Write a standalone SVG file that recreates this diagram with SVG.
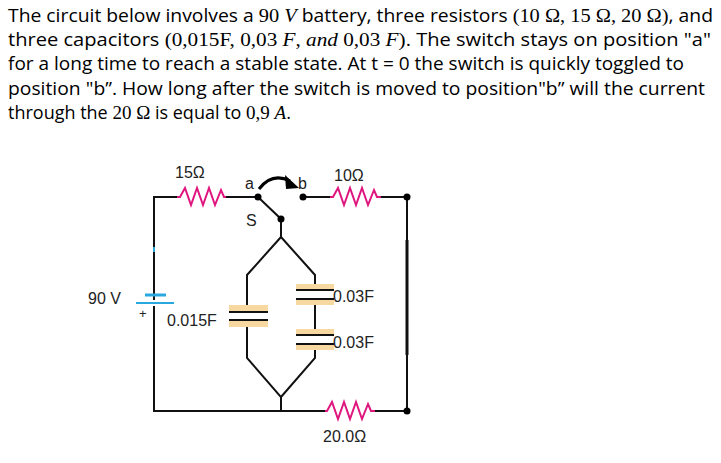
<svg xmlns="http://www.w3.org/2000/svg" width="721" height="463" viewBox="0 0 721 463">
<style>
.t{font-family:"Open Sans","Liberation Sans",sans-serif;font-size:18px;fill:#000}
.m{font-family:"Liberation Serif",serif;font-size:19px}
.i{font-style:italic}
.l{font-family:"Liberation Sans",Arial,sans-serif;font-size:16px;fill:#222}
.w{stroke:#111;stroke-width:2;fill:none}
.r{stroke:#e0167f;stroke-width:2;fill:none}
.cp{fill:#f6d8a0}
.pl{stroke:#111;stroke-width:2}
.d{fill:#000}
</style>
<rect width="721" height="463" fill="#fff"/>
<g id="text">
<text class="t" x="8" y="22" textLength="705" lengthAdjust="spacingAndGlyphs">The circuit below involves a <tspan class="m">90 </tspan><tspan class="m i">V</tspan> battery, three resistors <tspan class="m">(10 Ω, 15 Ω, 20 Ω)</tspan>, and</text>
<text class="t" x="8" y="46" textLength="703" lengthAdjust="spacingAndGlyphs">three capacitors <tspan class="m">(0,015F,  0,03 </tspan><tspan class="m i">F</tspan><tspan class="m">, </tspan><tspan class="m i">and</tspan><tspan class="m"> 0,03 </tspan><tspan class="m i">F</tspan><tspan class="m">)</tspan>. The switch stays on position "a"</text>
<text class="t" x="8" y="70" textLength="676" lengthAdjust="spacingAndGlyphs">for a long time to reach a stable state. At t = 0 the switch is quickly toggled to</text>
<text class="t" x="8" y="95" textLength="697" lengthAdjust="spacingAndGlyphs">position "b”. How long after the switch is moved to position"b” will the current</text>
<text class="t" x="8" y="119">through the <tspan class="m">20 Ω</tspan> is equal to <tspan class="m">0,9 </tspan><tspan class="m i">A</tspan>.</text>
</g>
<g id="connectors">
<path class="w" d="M177 197 H154 V411 H325 M375 411 H407 V197 M226 197 H258 M303 197 H330 M381 197 H407"/>
<path d="M407 240 V355" stroke="#111" stroke-width="3"/>
<path class="w" d="M258 197 L281 219 V237 L247 275 V312 M247 320 V358 L281 397 V411 M281 237 L315 275 V290 M315 299 V335 M315 344 V358 L281 397"/>
<path d="M259 189 Q272 172 290 181" stroke="#000" stroke-width="3" fill="none"/>
<path d="M285 175 L299 188 L286 189 Z" fill="#000"/>
</g>
<g id="R15"><path class="r" d="M177 197 H180 L185 188 L191 205 L197 188 L203 205 L209 188 L215 205 L221 190 L224 197 H226"/><text class="l" x="175" y="178">15Ω</text></g>
<g id="R10"><path class="r" d="M330 197 H333 L338 188 L344 205 L350 188 L356 205 L362 188 L368 205 L374 190 L377 197 H381"/><text class="l" x="334" y="181">10Ω</text></g>
<g id="R20"><path class="r" d="M325 411 H327 L332 402 L338 419 L344 402 L350 419 L356 402 L362 419 L368 404 L371 411 H375"/><text class="l" x="323" y="442">20.0Ω</text></g>
<g id="switch">
<circle class="d" cx="258" cy="197" r="3.5"/><circle class="d" cx="281" cy="219" r="3.5"/><circle class="d" cx="303" cy="197" r="3.5"/>
<text class="l" x="245" y="189">a</text><text class="l" x="298" y="189">b</text><text class="l" x="246" y="226">S</text>
</g>
<circle id="node" class="d" cx="407" cy="197" r="3.5"/>
<circle id="node2" class="d" cx="407" cy="411" r="3.5"/>
<g id="battery">
<rect x="150" y="300" width="8" height="6" fill="#fff"/>
<path d="M136 303 H174" stroke="#29a8e0" stroke-width="2"/>
<path d="M145 295 H166" stroke="#29a8e0" stroke-width="3"/>
<path d="M154 247 V252" stroke="#29a8e0" stroke-width="2"/>
<text class="l" x="88" y="304">90 V</text><text class="l" x="139" y="318" style="font-size:13px">+</text>
</g>
<g id="C1"><rect class="cp" x="229" y="305" width="39" height="7"/><rect class="cp" x="229" y="320" width="39" height="7"/><path class="pl" d="M229 312 H268 M229 320 H268"/><text class="l" x="167" y="326">0.015F</text></g>
<g id="C2"><rect class="cp" x="296" y="284" width="38" height="6"/><rect class="cp" x="296" y="299" width="38" height="6"/><path class="pl" d="M296 290 H334 M296 299 H334"/><text class="l" x="333" y="302">0.03F</text></g>
<g id="C3"><rect class="cp" x="296" y="329" width="38" height="6"/><rect class="cp" x="296" y="344" width="38" height="6"/><path class="pl" d="M296 335 H334 M296 344 H334"/><text class="l" x="333" y="348">0.03F</text></g>
</svg>
